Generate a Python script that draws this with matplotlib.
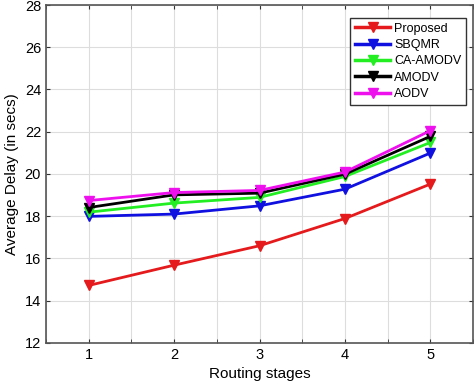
import matplotlib
matplotlib.use("Agg")
import matplotlib.pyplot as plt
from matplotlib.ticker import MultipleLocator

plt.rcParams['font.family'] = ['Liberation Sans', 'DejaVu Sans']

stages = [1, 2, 3, 4, 5]
proposed = [14.72, 15.68, 16.6, 17.89, 19.52]
sbqmr = [17.99, 18.1, 18.49, 19.28, 20.99]
ca_amodv = [18.19, 18.62, 18.89, 19.88, 21.49]
amodv = [18.41, 19.01, 19.09, 19.99, 21.78]
aodv = [18.74, 19.12, 19.22, 20.09, 22.05]

series = [
    ("Proposed", proposed, "#e41a1c"),
    ("SBQMR", sbqmr, "#1010e0"),
    ("CA-AMODV", ca_amodv, "#22ee22"),
    ("AMODV", amodv, "#000000"),
    ("AODV", aodv, "#ee11ee"),
]

fig = plt.figure(figsize=(4.74, 3.87), dpi=100)
ax = fig.add_axes([0.097, 0.114, 0.901, 0.873])

for name, vals, col in series:
    ax.plot(stages, vals, color=col, lw=2, marker='v', ms=6.5,
            markerfacecolor=col, markeredgecolor=col, label=name)

ax.set_xlim(0.5, 5.5)
ax.set_ylim(12, 28)
ax.xaxis.set_major_locator(MultipleLocator(1))
ax.xaxis.set_minor_locator(MultipleLocator(0.5))
ax.yaxis.set_major_locator(MultipleLocator(2))
ax.grid(True, which='both', axis='x', color='#dddddd', lw=0.8)
ax.grid(True, which='major', axis='y', color='#dddddd', lw=0.8)
ax.set_axisbelow(True)
ax.tick_params(which='both', direction='in', top=True, right=True,
               labelsize=10.5, color='#333333', length=3)
for s in ax.spines.values():
    s.set_color('#555555')
    s.set_linewidth(1.2)

ax.set_xlabel("Routing stages", fontsize=11)
ax.set_ylabel("Average Delay (in secs)", fontsize=11)

leg = ax.legend(loc='upper right', bbox_to_anchor=(0.99, 0.97), fontsize=9,
                fancybox=False, framealpha=1, edgecolor='#333333',
                handlelength=2.8, handletextpad=0.3, borderpad=0.4,
                labelspacing=0.35, borderaxespad=0.2)
leg.get_frame().set_linewidth(1.0)
for line in leg.get_lines():
    line.set_linewidth(2.5)

fig.savefig("out.png", dpi=100)
